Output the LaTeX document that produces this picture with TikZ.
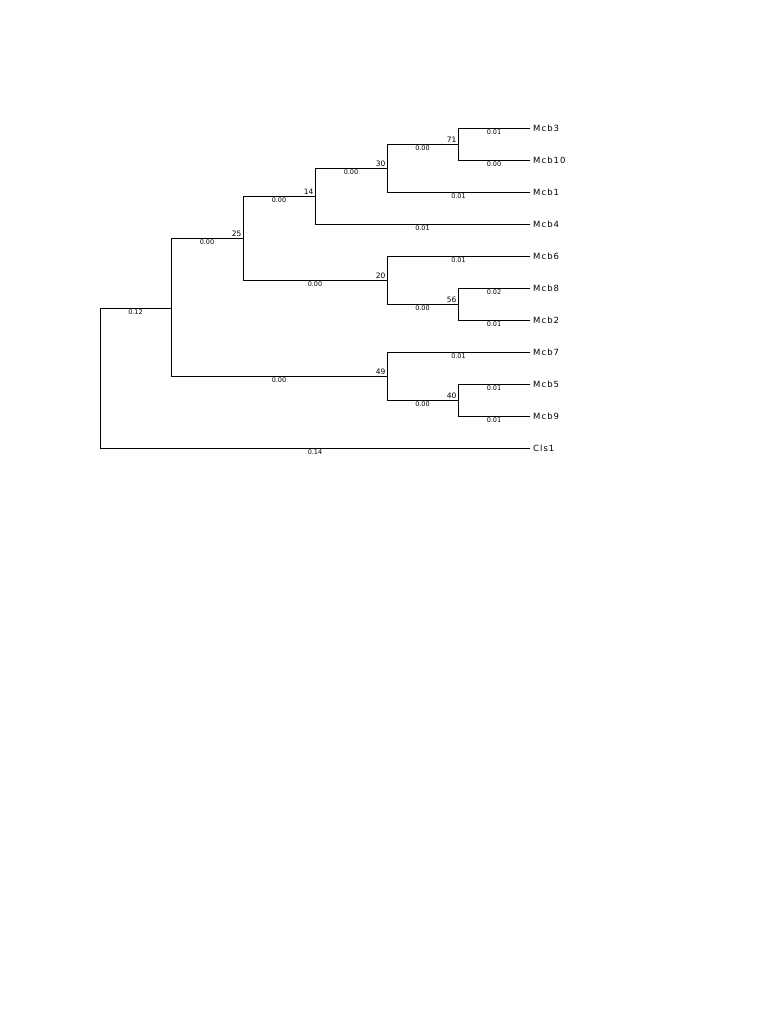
\documentclass[tikz,border=0pt]{standalone}
\usepackage{fontspec}
\setmainfont{DejaVu Sans}
\begin{document}
\begin{tikzpicture}[x=1pt,y=-1pt,
  br/.style={line width=0.6pt},
  bl/.style={font=\fontsize{6.5}{7}\selectfont,below=1.5pt,pos=0.75,inner sep=0pt},
  bs/.style={font=\fontsize{7.5}{8}\selectfont,anchor=south east,inner sep=1.5pt},
  leaf/.style={font=\fontsize{8.5}{9}\selectfont,anchor=west,inner sep=3pt}]
\useasboundingbox (0,0) rectangle (768,1024);
% internal nodes
\coordinate (n71) at (458,144);
\coordinate (n30) at (387,168);
\coordinate (n14) at (315,196);
\coordinate (n56) at (458,304);
\coordinate (n20) at (387,280);
\coordinate (n25) at (243,238);
\coordinate (n40) at (458,400);
\coordinate (n49) at (387,376);
\coordinate (nA) at (171,308);
\coordinate (root) at (100,378);
% leaves
\foreach \n/\t/\y in {l3/Mcb3/128,l10/Mcb10/160,l1/Mcb1/192,l4/Mcb4/224,l6/Mcb6/256,l8/Mcb8/288,l2/Mcb2/320,l7/Mcb7/352,l5/Mcb5/384,l9/Mcb9/416,lc/Cls1/448}
  \node[leaf] (\n) at (530,\y) {\addfontfeature{LetterSpace=12}\t};
\def\E#1#2#3{\draw[br] (#1) |- (#2.west) node[bl]{#3};}
\E{n71}{l3}{0.01}
\E{n71}{l10}{0.00}
\draw[br] (n30) |- (n71) node[bl]{0.00};
\E{n30}{l1}{0.01}
\draw[br] (n14) |- (n30) node[bl]{0.00};
\E{n14}{l4}{0.01}
\draw[br] (n25) |- (n14) node[bl]{0.00};
\E{n20}{l6}{0.01}
\E{n56}{l8}{0.02}
\E{n56}{l2}{0.01}
\draw[br] (n20) |- (n56) node[bl]{0.00};
\draw[br] (n25) |- (n20) node[bl]{0.00};
\draw[br] (nA) |- (n25) node[bl]{0.00};
\E{n49}{l7}{0.01}
\E{n40}{l5}{0.01}
\E{n40}{l9}{0.01}
\draw[br] (n49) |- (n40) node[bl]{0.00};
\draw[br] (nA) |- (n49) node[bl]{0.00};
\draw[br] (root) |- (nA) node[bl]{0.12};
\E{root}{lc}{0.14}
% bootstrap
\foreach \c/\v in {n71/71,n30/30,n14/14,n56/56,n20/20,n25/25,n40/40,n49/49}
  \node[bs] (b\c) at (\c) {\v};
\end{tikzpicture}
\end{document}
